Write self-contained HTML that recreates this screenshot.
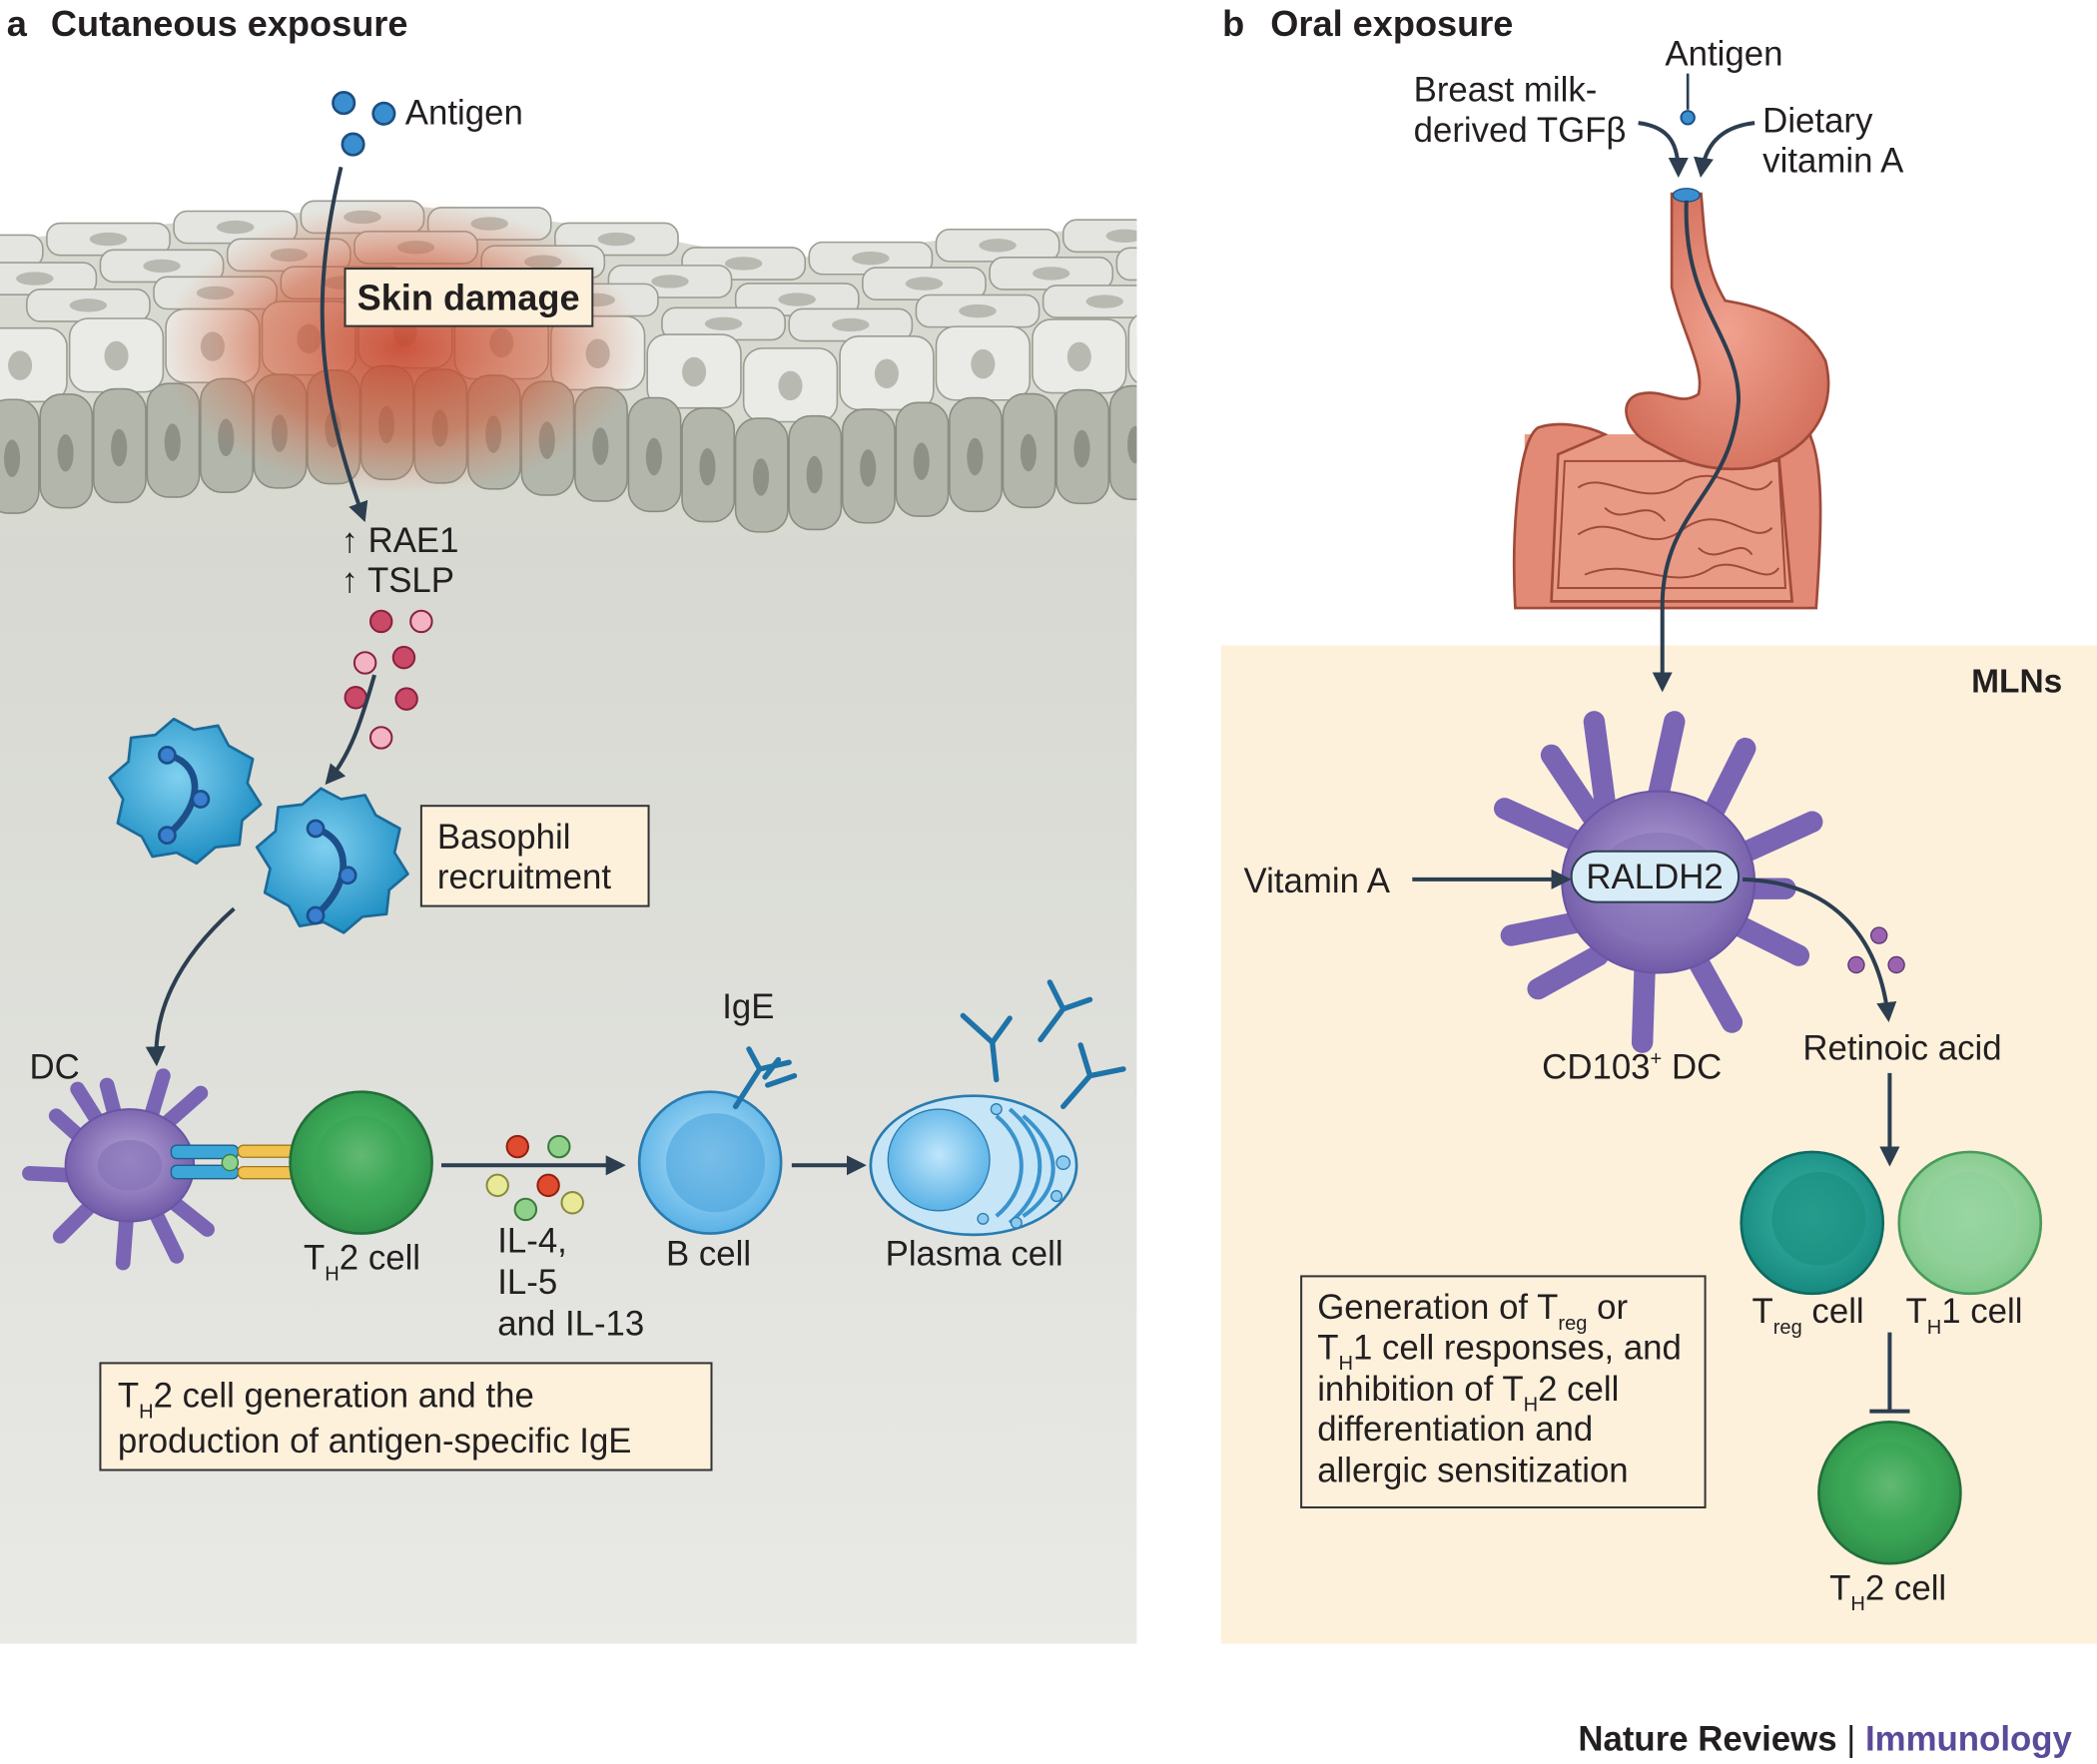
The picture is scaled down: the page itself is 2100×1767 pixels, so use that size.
<!DOCTYPE html>
<html><head><meta charset="utf-8">
<style>
html,body{margin:0;padding:0;background:#fff;}
svg{display:block;}
text{font-family:"Liberation Sans",sans-serif;fill:#231f20;}
.t{font-size:26px;}
.b{font-weight:bold;}
</style></head><body>
<svg id="s" width="2100" height="1767" viewBox="0 0 1568 1320" preserveAspectRatio="none" xmlns="http://www.w3.org/2000/svg">
<defs>
<linearGradient id="ga" x1="0" y1="0" x2="0" y2="1">
<stop offset="0" stop-color="#d3d5cd"/><stop offset="1" stop-color="#e9e9e6"/></linearGradient>
<radialGradient id="red" cx="0.5" cy="0.5" r="0.5">
<stop offset="0" stop-color="#c8432a" stop-opacity="0.9"/><stop offset="0.6" stop-color="#d0603f" stop-opacity="0.6"/><stop offset="1" stop-color="#e08060" stop-opacity="0"/></radialGradient>
<radialGradient id="bas" cx="0.45" cy="0.4" r="0.6"><stop offset="0" stop-color="#7fd0f0"/><stop offset="1" stop-color="#1f8fc4"/></radialGradient>
<radialGradient id="pur" cx="0.5" cy="0.45" r="0.6"><stop offset="0" stop-color="#b9a6d8"/><stop offset="1" stop-color="#6a54a4"/></radialGradient>
<radialGradient id="grn" cx="0.5" cy="0.45" r="0.55"><stop offset="0" stop-color="#9fd9a0"/><stop offset="0.5" stop-color="#3fae5a"/><stop offset="1" stop-color="#2e8f49"/></radialGradient>
<radialGradient id="blu" cx="0.5" cy="0.45" r="0.55"><stop offset="0" stop-color="#bfe6fb"/><stop offset="1" stop-color="#5ab2e6"/></radialGradient>
<radialGradient id="teal" cx="0.5" cy="0.45" r="0.55"><stop offset="0" stop-color="#3fb8a8"/><stop offset="1" stop-color="#178a80"/></radialGradient>
<radialGradient id="lgrn" cx="0.5" cy="0.45" r="0.55"><stop offset="0" stop-color="#b6e2b4"/><stop offset="1" stop-color="#7ec78a"/></radialGradient>
<radialGradient id="stom" cx="0.5" cy="0.5" r="0.6"><stop offset="0" stop-color="#f0a28f"/><stop offset="1" stop-color="#d26e5a"/></radialGradient>
<clipPath id="ca"><rect x="0" y="100" width="850" height="400"/></clipPath>
<marker id="ar" viewBox="0 0 10 10" refX="8" refY="5" markerWidth="5" markerHeight="5" orient="auto-start-reverse"><path d="M0,0 L10,5 L0,10 Z" fill="#2c3e50"/></marker>
</defs>

<rect x="0" y="250" width="850" height="980" fill="url(#ga)"/>
<g clip-path="url(#ca)"><g id="skin"></g>
<ellipse cx="300" cy="260" rx="180" ry="110" fill="url(#red)"/></g>

<rect x="913" y="483" width="655" height="747" fill="#fdf1dc"/>

<text x="5" y="27" class="b" font-size="27">a</text>
<text x="38" y="27" class="b" font-size="27">Cutaneous exposure</text>
<text x="914" y="27" class="b" font-size="27">b</text>
<text x="950" y="27" class="b" font-size="27">Oral exposure</text>

<circle cx="257" cy="77" r="8" fill="#3a8fd0" stroke="#1d4f80" stroke-width="2"/>
<circle cx="287" cy="85" r="8" fill="#3a8fd0" stroke="#1d4f80" stroke-width="2"/>
<circle cx="264" cy="108" r="8" fill="#3a8fd0" stroke="#1d4f80" stroke-width="2"/>
<text x="303" y="93" class="t">Antigen</text>
<path d="M255,125 C230,230 240,300 272,388" fill="none" stroke="#2c3e50" stroke-width="3" marker-end="url(#ar)"/>
<rect x="258" y="201" width="185" height="43" fill="#fdf1dc" stroke="#333" stroke-width="1.5"/>
<text x="267" y="232" class="b" font-size="27">Skin damage</text>
<text x="255" y="413" class="t">↑ RAE1</text>
<text x="255" y="443" class="t">↑ TSLP</text>
<g fill="#c94966" stroke="#8a2040" stroke-width="1.5">
<circle cx="285" cy="465" r="8"/><circle cx="315" cy="465" r="8" fill="#f2b4c2"/><circle cx="273" cy="496" r="8" fill="#f2b4c2"/><circle cx="302" cy="492" r="8"/><circle cx="266" cy="522" r="8"/><circle cx="304" cy="523" r="8"/><circle cx="285" cy="552" r="8" fill="#f2b4c2"/></g>
<path d="M280,505 C270,540 262,565 245,585" fill="none" stroke="#2c3e50" stroke-width="3" marker-end="url(#ar)"/>

<path d="M130,538 l15,8 18,-3 8,15 18,10 -4,18 10,16 -14,12 -2,18 -18,2 -14,12 -15,-8 -18,3 -8,-15 -18,-10 4,-18 -10,-16 14,-12 2,-18 18,-2 z" fill="url(#bas)" stroke="#1b6a99" stroke-width="2" stroke-linejoin="round"/>
<path d="M125,565 C150,570 155,600 125,625" fill="none" stroke="#1c4f8a" stroke-width="5"/>
<circle cx="125" cy="565" r="6" fill="#3a7fd0" stroke="#1c4f8a" stroke-width="2"/><circle cx="150" cy="598" r="6" fill="#3a7fd0" stroke="#1c4f8a" stroke-width="2"/><circle cx="125" cy="625" r="6" fill="#3a7fd0" stroke="#1c4f8a" stroke-width="2"/>
<path d="M240,590 l15,8 18,-3 8,15 18,10 -4,18 10,16 -14,12 -2,18 -18,2 -14,12 -15,-8 -18,3 -8,-15 -18,-10 4,-18 -10,-16 14,-12 2,-18 18,-2 z" fill="url(#bas)" stroke="#1b6a99" stroke-width="2" stroke-linejoin="round"/>
<path d="M236,620 C262,628 265,660 236,685" fill="none" stroke="#1c4f8a" stroke-width="5"/>
<circle cx="236" cy="620" r="6" fill="#3a7fd0" stroke="#1c4f8a" stroke-width="2"/><circle cx="260" cy="655" r="6" fill="#3a7fd0" stroke="#1c4f8a" stroke-width="2"/><circle cx="236" cy="685" r="6" fill="#3a7fd0" stroke="#1c4f8a" stroke-width="2"/>
<rect x="315" y="603" width="170" height="75" fill="#fdf1dc" stroke="#333" stroke-width="1.5"/>
<text x="327" y="635" class="t">Basophil</text><text x="327" y="665" class="t">recruitment</text>
<path d="M175,680 C130,720 115,760 117,795" fill="none" stroke="#2c3e50" stroke-width="3" marker-end="url(#ar)"/>

<text x="22" y="807" class="t">DC</text>
<g stroke="#7a64b4" stroke-width="11" stroke-linecap="round" fill="none">
<path d="M90,850 L80,812 M110,845 L122,805 M70,860 L42,835 M65,880 L22,878 M70,900 L45,925 M95,905 L92,945 M115,905 L132,940 M130,900 L155,920 M125,840 L150,818 M80,850 L58,815"/>
</g>
<ellipse cx="97" cy="872" rx="48" ry="42" fill="url(#pur)" stroke="#6a54a4" stroke-width="1.5"/>
<ellipse cx="97" cy="872" rx="24" ry="19" fill="#8673b8" opacity="0.7"/>
<rect x="128" y="857" width="50" height="10" rx="4" fill="#3da6d8" stroke="#1c5f8a"/>
<rect x="128" y="872" width="50" height="10" rx="4" fill="#3da6d8" stroke="#1c5f8a"/>
<rect x="178" y="857" width="55" height="9" rx="4" fill="#f1c24f" stroke="#a07a1a"/>
<rect x="178" y="873" width="55" height="9" rx="4" fill="#f1c24f" stroke="#a07a1a"/>
<circle cx="172" cy="870" r="6" fill="#8ed08e" stroke="#3a7a3a"/>
<circle cx="270" cy="870" r="53" fill="url(#grn)" stroke="#236f3a" stroke-width="2"/>
<circle cx="270" cy="870" r="35" fill="#3aa455" opacity="0.6"/>
<text x="227" y="950" class="t">T<tspan font-size="15" dy="8">H</tspan><tspan dy="-8">2 cell</tspan></text>
<path d="M330,872 L465,872" stroke="#2c3e50" stroke-width="3" marker-end="url(#ar)"/>
<g stroke-width="1.5">
<circle cx="387" cy="858" r="8" fill="#e04a2e" stroke="#902010"/><circle cx="418" cy="858" r="8" fill="#8fd08a" stroke="#3a7a3a"/>
<circle cx="372" cy="887" r="8" fill="#e8ea9a" stroke="#8a8a3a"/><circle cx="410" cy="887" r="8" fill="#e04a2e" stroke="#902010"/>
<circle cx="393" cy="905" r="8" fill="#8fd08a" stroke="#3a7a3a"/><circle cx="428" cy="900" r="8" fill="#e8ea9a" stroke="#8a8a3a"/></g>
<text x="372" y="937" class="t">IL-4,</text><text x="372" y="968" class="t">IL-5</text><text x="372" y="999" class="t">and IL-13</text>
<circle cx="531" cy="870" r="53" fill="url(#blu)" stroke="#2a7bb0" stroke-width="2"/>
<circle cx="535" cy="870" r="37" fill="#4aa3dc" opacity="0.6"/>
<text x="498" y="947" class="t">B cell</text>
<text x="540" y="762" class="t">IgE</text>
<g stroke="#1e73a8" stroke-width="4" fill="none" stroke-linecap="round">
<path d="M550,828 L568,800 L560,785 M568,800 L590,795 M572,806 L582,793 M574,812 L594,805"/>
</g>
<path d="M592,872 L645,872" stroke="#2c3e50" stroke-width="3" marker-end="url(#ar)"/>
<ellipse cx="728" cy="872" rx="77" ry="52" fill="#c6e6f8" stroke="#2a7bb0" stroke-width="2"/>
<ellipse cx="702" cy="868" rx="38" ry="38" fill="url(#blu)" stroke="#2a7bb0"/>
<g fill="none" stroke="#3a93cc" stroke-width="3">
<path d="M745,835 C770,855 770,890 745,910"/><path d="M755,830 C785,855 785,890 755,915"/><path d="M765,835 C795,860 795,890 765,910"/></g>
<g fill="#8ccaf0" stroke="#2a7bb0"><circle cx="745" cy="830" r="4"/><circle cx="795" cy="870" r="5"/><circle cx="735" cy="912" r="4"/><circle cx="760" cy="915" r="4"/><circle cx="790" cy="895" r="4"/></g>
<text x="662" y="947" class="t">Plasma cell</text>
<g stroke="#1e73a8" stroke-width="4" fill="none" stroke-linecap="round">
<path d="M745,808 L742,780 L720,760 M742,780 L755,762"/>
<path d="M778,778 L795,755 L785,735 M795,755 L815,748"/>
<path d="M795,828 L815,805 L808,782 M815,805 L840,800"/>
</g>
<rect x="75" y="1020" width="457" height="80" fill="#fdf1dc" stroke="#333" stroke-width="1.5"/>
<text x="88" y="1053" class="t">T<tspan font-size="15" dy="8">H</tspan><tspan dy="-8">2 cell generation and the</tspan></text>
<text x="88" y="1087" class="t">production of antigen-specific IgE</text>

<text x="1245" y="49" class="t">Antigen</text>
<line x1="1262" y1="55" x2="1262" y2="82" stroke="#2c3e50" stroke-width="2"/>
<circle cx="1262" cy="88" r="5" fill="#3a8fd0" stroke="#1d4f80" stroke-width="1.5"/>
<text x="1057" y="76" class="t">Breast milk-</text><text x="1057" y="106" class="t">derived TGFβ</text>
<text x="1318" y="99" class="t">Dietary</text><text x="1318" y="129" class="t">vitamin A</text>
<path d="M1225,92 C1250,95 1255,110 1255,130" fill="none" stroke="#2c3e50" stroke-width="3" marker-end="url(#ar)"/>
<path d="M1312,92 C1285,95 1275,110 1272,130" fill="none" stroke="#2c3e50" stroke-width="3" marker-end="url(#ar)"/>
<rect x="1140" y="325" width="215" height="130" fill="#e99a85"/>
<path d="M1150,320 C1135,330 1130,400 1133,455 L1358,455 C1362,400 1365,340 1350,320 C1330,315 1320,325 1310,330 L1330,340 L1340,450 L1160,450 L1165,340 L1200,325 C1185,318 1165,315 1150,320 Z" fill="#e28a75" stroke="#a04a3a" stroke-width="2"/>
<path d="M1170,345 L1330,345 L1335,440 L1165,440 Z" fill="#e99a85" stroke="#a04a3a" stroke-width="1.5"/>
<g fill="none" stroke="#a04a3a" stroke-width="1.5">
<path d="M1180,365 C1200,350 1230,385 1260,360 C1290,345 1310,380 1325,360 M1180,400 C1210,380 1230,420 1260,395 C1290,375 1310,410 1325,395 M1185,430 C1220,415 1250,445 1280,425 C1300,415 1320,440 1330,425 M1200,380 C1215,395 1230,370 1245,390 M1270,410 C1285,425 1300,400 1310,415"/></g>
<path d="M1250,145 L1272,145 C1275,180 1275,200 1290,225 C1320,230 1350,240 1365,270 C1375,310 1350,340 1310,350 C1270,355 1250,340 1230,330 C1215,320 1210,300 1225,295 C1245,290 1255,305 1270,295 C1275,275 1258,250 1250,215 Z" fill="url(#stom)" stroke="#a04a3a" stroke-width="2"/>
<ellipse cx="1261" cy="146" rx="10" ry="5" fill="#3a8fd0" stroke="#1d4f80"/>
<path d="M1261,150 C1258,230 1300,250 1300,300 C1295,370 1245,380 1243,450 L1243,515" fill="none" stroke="#2c3e50" stroke-width="3" marker-end="url(#ar)"/>
<text x="1474" y="518" class="b" font-size="25">MLNs</text>
<g stroke="#7a64b4" stroke-width="16" stroke-linecap="round" fill="none">
<path d="M1200,600 L1192,540 M1240,595 L1252,540 M1280,610 L1305,560 M1300,640 L1355,615 M1295,690 L1345,715 M1270,720 L1295,765 M1230,720 L1228,780 M1195,715 L1150,740 M1180,690 L1130,700 M1180,630 L1125,605 M1190,610 L1160,565 M1305,665 L1335,665"/>
</g>
<ellipse cx="1240" cy="660" rx="72" ry="68" fill="url(#pur)" stroke="#6a54a4" stroke-width="1.5"/>
<ellipse cx="1240" cy="665" rx="50" ry="42" fill="#8673b8" opacity="0.6"/>
<rect x="1175" y="637" width="125" height="38" rx="19" fill="#d7ecf7" stroke="#2c3e50" stroke-width="1.5"/>
<text x="1186" y="665" class="t">RALDH2</text>
<text x="930" y="668" class="t">Vitamin A</text>
<path d="M1056,658 L1172,658" stroke="#2c3e50" stroke-width="3" marker-end="url(#ar)"/>
<path d="M1303,658 C1370,660 1405,700 1412,762" fill="none" stroke="#2c3e50" stroke-width="3" marker-end="url(#ar)"/>
<g fill="#9a63b0" stroke="#5b3570"><circle cx="1405" cy="700" r="6"/><circle cx="1388" cy="722" r="6"/><circle cx="1418" cy="722" r="6"/></g>
<text x="1153" y="807" class="t">CD103<tspan font-size="15" dy="-10">+</tspan><tspan dy="10"> DC</tspan></text>
<text x="1348" y="793" class="t">Retinoic acid</text>
<path d="M1413,803 L1413,870" stroke="#2c3e50" stroke-width="3" marker-end="url(#ar)"/>
<circle cx="1355" cy="915" r="53" fill="url(#teal)" stroke="#0f6a60" stroke-width="2"/>
<circle cx="1360" cy="912" r="35" fill="#1a9080" opacity="0.7"/>
<circle cx="1473" cy="915" r="53" fill="url(#lgrn)" stroke="#4a9a5a" stroke-width="2"/>
<circle cx="1473" cy="912" r="35" fill="#8dd09a" opacity="0.7"/>
<text x="1310" y="990" class="t">T<tspan font-size="15" dy="8">reg</tspan><tspan dy="-8"> cell</tspan></text>
<text x="1425" y="990" class="t">T<tspan font-size="15" dy="8">H</tspan><tspan dy="-8">1 cell</tspan></text>
<line x1="1413" y1="997" x2="1413" y2="1056" stroke="#2c3e50" stroke-width="3"/>
<line x1="1398" y1="1056" x2="1428" y2="1056" stroke="#2c3e50" stroke-width="3"/>
<circle cx="1413" cy="1117" r="53" fill="url(#grn)" stroke="#236f3a" stroke-width="2"/>
<circle cx="1413" cy="1114" r="35" fill="#3aa455" opacity="0.6"/>
<text x="1368" y="1197" class="t">T<tspan font-size="15" dy="8">H</tspan><tspan dy="-8">2 cell</tspan></text>
<rect x="973" y="955" width="302" height="173" fill="#fdf1dc" stroke="#333" stroke-width="1.5"/>
<text x="985" y="987" class="t">Generation of T<tspan font-size="15" dy="8">reg</tspan><tspan dy="-8"> or</tspan></text>
<text x="985" y="1017" class="t">T<tspan font-size="15" dy="8">H</tspan><tspan dy="-8">1 cell responses, and</tspan></text>
<text x="985" y="1048" class="t">inhibition of T<tspan font-size="15" dy="8">H</tspan><tspan dy="-8">2 cell</tspan></text>
<text x="985" y="1078" class="t">differentiation and</text>
<text x="985" y="1109" class="t">allergic sensitization</text>

<text x="1180" y="1310" class="b" font-size="26">Nature Reviews <tspan font-weight="normal">|</tspan> <tspan fill="#5a4a9a">Immunology</tspan></text>
</svg>
<script>
(function(){
var g=document.getElementById('skin'),h='';
var P=[[-50,178],[0,175],[150,160],[300,148],[450,165],[580,190],[700,175],[900,160]];
function top(x){for(var i=0;i<P.length-1;i++){if(x<=P[i+1][0]){var t=(x-P[i][0])/(P[i+1][0]-P[i][0]);return P[i][1]+t*(P[i+1][1]-P[i][1]);}}return 160;}
var d='M-10,'+(top(-10)+5);for(var x=0;x<=860;x+=20){d+=' L'+x+','+(top(x)+5);}d+=' L860,400 L-10,400 Z';
h+='<path d="'+d+'" fill="#d8dad2"/>';
for(var r=0;r<3;r++){for(var x=-60+r*40;x<860;x+=95){var y=top(x+45)+r*24;
h+='<rect x="'+x+'" y="'+y+'" width="92" height="24" rx="10" fill="#e4e5e0" stroke="#9a9d92" stroke-width="1.2"/>';
h+='<ellipse cx="'+(x+46)+'" cy="'+(y+12)+'" rx="14" ry="5" fill="#b8bab2"/>';}}
for(var x=-20;x<860;x+=72){var y=top(x+35)+72;
h+='<rect x="'+x+'" y="'+y+'" width="70" height="55" rx="14" fill="#eaebe6" stroke="#9a9d92" stroke-width="1.2"/>';
h+='<ellipse cx="'+(x+35)+'" cy="'+(y+28)+'" rx="9" ry="11" fill="#b8bab2"/>';}
for(var x=-10;x<860;x+=40){var y=top(x+20)+125;
h+='<rect x="'+x+'" y="'+y+'" width="39" height="85" rx="16" fill="#b3b6aa" stroke="#8a8d82" stroke-width="1.2"/>';
h+='<ellipse cx="'+(x+19)+'" cy="'+(y+44)+'" rx="6" ry="14" fill="#8e9186"/>';}
g.innerHTML=h;
})();
</script>
</body></html>
